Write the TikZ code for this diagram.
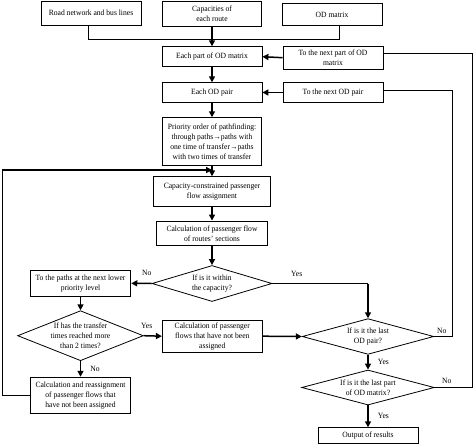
\documentclass[tikz,border=0pt]{standalone}
\usepackage{fontspec}
\setmainfont{Liberation Serif}[FakeStretch=0.95]
\usetikzlibrary{arrows.meta,shapes.geometric}
\begin{document}
\begin{tikzpicture}[x=1pt,y=-1pt,
  every node/.style={font=\fontsize{8}{10}\selectfont},
  box/.style={draw,line width=0.8pt,rectangle,inner sep=1pt,align=center},
  dia/.style={draw,line width=0.8pt,diamond,inner sep=0pt},
  txt/.style={align=center,inner sep=0pt},
  lbl/.style={inner sep=0pt},
  arr/.style={line width=1.5pt,-{Triangle[length=6pt,width=6pt]}},
  ln/.style={line width=1pt}]
\useasboundingbox (0,0) rectangle (474,444);
% top row
\node[box,minimum width=100,minimum height=24] (road) at (91,13) {Road network and bus lines};
\node[box,minimum width=99,minimum height=25] (cap) at (212,14) {Capacities of\\each route};
\node[box,minimum width=100,minimum height=22.4] (odm) at (332,14.5) {OD matrix};
% column
\node[box,minimum width=100,minimum height=20] (part) at (212,56.7) {Each part of OD matrix};
\node[box,minimum width=100,minimum height=22.7] (nextpart) at (333,57.7) {To the next part of OD\\matrix};
\node[box,minimum width=100,minimum height=19.6] (pair) at (212,92.5) {Each OD pair};
\node[box,minimum width=100,minimum height=19.6] (nextpair) at (333,92.5) {To the next OD pair};
\node[box,minimum width=99,minimum height=47.3] (prio) at (212,141.3) {Priority order of pathfinding:\\through paths→paths with\\one time of transfer→paths\\with two times of transfer};
\node[box,minimum width=117.7,minimum height=30] (ccpa) at (212,191.7) {Capacity-constrained passenger\\flow assignment};
\node[box,minimum width=110.6,minimum height=24.7] (calc) at (212,233.3) {Calculation of passenger flow\\of routes’ sections};
\node[dia,minimum width=120,minimum height=36] (d1) at (212,283.5) {};
\node[txt] (d1t) at (d1) {If is it within\\the capacity?};
% left column
\node[box,minimum width=100.7,minimum height=25.3] (lower) at (80.5,283.3) {To the paths at the next lower\\priority level};
\node[dia,minimum width=125.7,minimum height=50] (d2) at (80.5,335.7) {};
\node[txt] (d2t) at (d2) {If has the transfer\\times reached more\\than 2 times?};
\node[box,minimum width=100,minimum height=36.7] (reassign) at (80.5,395.5) {Calculation and reassignment\\of passenger flows that\\have not been assigned};
\node[box,minimum width=100,minimum height=32.3] (notas) at (212.3,336.2) {Calculation of passenger\\flows that have not been\\assigned};
% right column
\node[dia,minimum width=131.6,minimum height=35.7] (d3) at (368,336.5) {};
\node[txt] (d3t) at (d3) {If is it the last\\OD pair?};
\node[dia,minimum width=132.6,minimum height=35] (d4) at (368,387.5) {};
\node[txt] (d4t) at (d4) {If is it the last part\\of OD matrix?};
\node[box,minimum width=100,minimum height=15.6] (out) at (368,435.5) {Output of results};
% coordinates
\coordinate (m) at (212,39.5);
\coordinate (fb) at (2.5,170);
\coordinate (r1) at (452.5,90.5);
\coordinate (r2) at (472.5,53.5);
% connectors
\draw[ln] ([xshift=-3]road.south) |- (m) -| ([xshift=7]odm.south);
\draw[arr] (cap.south) -- (part.north);
\draw[arr] (nextpart.west) -- (part.east);
\draw[arr] (part.south) -- (pair.north);
\draw[arr] (nextpair.west) -- (pair.east);
\draw[arr] (pair.south) -- (prio.north);
\draw[arr] (prio.south) -- (ccpa.north);
\draw[arr] (reassign.west) -| (fb) -- (fb -| ccpa.north);
\draw[arr] (ccpa.south) -- (calc.north);
\draw[arr] (calc.south) -- (d1.north);
\draw[arr] (d1.west) -- (lower.east);
\draw[ln] (d1.east) -- (d1.east -| d3.north);
\draw[arr] (d1.east -| d3.north) -- (d3.north);
\draw[arr] (lower.south) -- (d2.north);
\draw[arr] (d2.east) -- (notas.west);
\draw[arr] (d2.south) -- (reassign.north);
\draw[arr] (notas.east) -- (d3.west);
\draw[arr] (d3.south) -- (d4.north);
\draw[arr] (d4.south) -- (out.north);
\draw[ln] (d3.east) -| (r1) -- (r1 -| nextpair.east);
\draw[ln] (d4.east) -| (r2) -- (r2 -| nextpart.east);
% labels
\node[lbl] (l1) at (146.7,273.3) {No};
\node[lbl] (l2) at (296.7,274.3) {Yes};
\node[lbl] (l3) at (146.7,326) {Yes};
\node[lbl] (l4) at (95,369.3) {No};
\node[lbl] (l5) at (441.7,330.7) {No};
\node[lbl] (l6) at (383.3,361.7) {Yes};
\node[lbl] (l7) at (446.7,380.7) {No};
\node[lbl] (l8) at (383.3,416) {Yes};
\end{tikzpicture}
\end{document}
